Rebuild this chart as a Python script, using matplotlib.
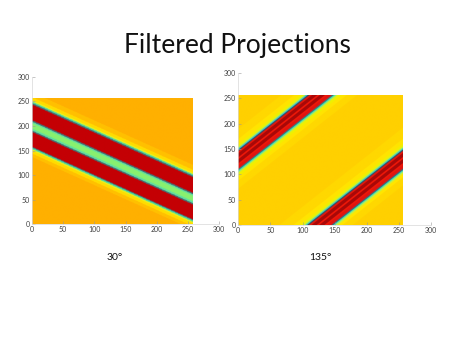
import matplotlib
matplotlib.use("Agg")
import matplotlib.pyplot as plt
import numpy as np
from matplotlib.colors import ListedColormap, BoundaryNorm

plt.rcParams['font.family'] = ['Lato', 'DejaVu Sans']

ticks = [0, 50, 100, 150, 200, 250, 300]
size = 257

# band edges measured along the y axis at x=0, colour between each pair of edges
slope_30 = -0.577
edges_30 = [-200, 136, 143, 149, 152, 155, 157, 187, 190, 194, 205, 208, 211, 243, 246, 249, 252, 258, 268, 400]
colors_30 = ['#ffb000', '#ffc000', '#ffdc00', '#e8f020', '#50d8a0', '#4a6a70', '#c40004',
             '#4a6a70', '#60e0a0', '#88f070', '#60e0a0', '#4a6a70', '#c40004', '#4a6a70',
             '#50d8a0', '#e8f020', '#ffdc00', '#ffc000', '#ffb000']

slope_135 = 1.0
edges_135 = [-300, -178, -162, -155, -151, -148, -145, -138, -134, -126, -122, -114, -110, -107, -104,
             -101, -96, -86, -64, 72, 88, 96, 102, 105, 108, 111, 118, 122, 130, 134, 142, 146, 149, 152,
             155, 160, 170, 190, 300]
colors_135 = ['#ffd000', '#ffd800', '#ffe600', '#c8f040', '#50e0b0', '#2f6f80', '#e01410', '#f01808',
              '#a80808', '#f01808', '#a80808', '#e81808', '#3a4a60', '#40d0c0', '#c0f040', '#f0f000',
              '#ffe400', '#ffd800', '#ffd000', '#ffd800', '#ffe400', '#f0f000', '#c0f040', '#50e0b0',
              '#2f7f80', '#e01410', '#f01808', '#a80808', '#f01808', '#a80808', '#e81808', '#3a4a60',
              '#40c8d0', '#c0f040', '#f0f000', '#ffe400', '#ffd800', '#ffd000']


def panel(rect, slope, edges, colors):
    ax = fig.add_axes(rect)
    x, y = np.meshgrid(np.arange(size), np.arange(size))
    offset = y - slope * x
    band = np.digitize(offset, edges) - 1
    cmap = ListedColormap(colors)
    norm = BoundaryNorm(np.arange(len(colors) + 1) - 0.5, len(colors))
    ax.imshow(band, origin='lower', extent=(0, size - 1, 0, size - 1), cmap=cmap, norm=norm,
              aspect='auto', interpolation='hanning', interpolation_stage='rgba')
    ax.set_xlim(0, 300)
    ax.set_ylim(0, 300)
    ax.set_xticks(ticks)
    ax.set_yticks(ticks)
    ax.tick_params(direction='in', length=2, width=0.4, color='#999999', labelsize=5,
                   labelcolor='#404040', pad=1.5)
    ax.spines['top'].set_visible(False)
    ax.spines['right'].set_visible(False)
    ax.spines['left'].set_color('#d8d8d8')
    ax.spines['bottom'].set_color('#d8d8d8')
    ax.spines['left'].set_linewidth(0.5)
    ax.spines['bottom'].set_linewidth(0.5)
    return ax


W, H = 474, 355
fig = plt.figure(figsize=(W / 100, H / 100), dpi=100)

panel([31.7 / W, 1 - 224.3 / H, 187.6 / W, 147.6 / H], slope_30, edges_30, colors_30)
panel([238.3 / W, 1 - 225.0 / H, 192.7 / W, 152.0 / H], slope_135, edges_135, colors_135)

fig.text(237 / W, 1 - 45 / H, 'Filtered Projections', fontsize=19, color='#111111', ha='center', va='center')
fig.text(115 / W, 1 - 257 / H, '30°', fontsize=7.5, color='#111111', ha='center', va='center')
fig.text(320 / W, 1 - 257 / H, '135°', fontsize=7.5, color='#111111', ha='center', va='center')

fig.savefig('out.png', dpi=100)
